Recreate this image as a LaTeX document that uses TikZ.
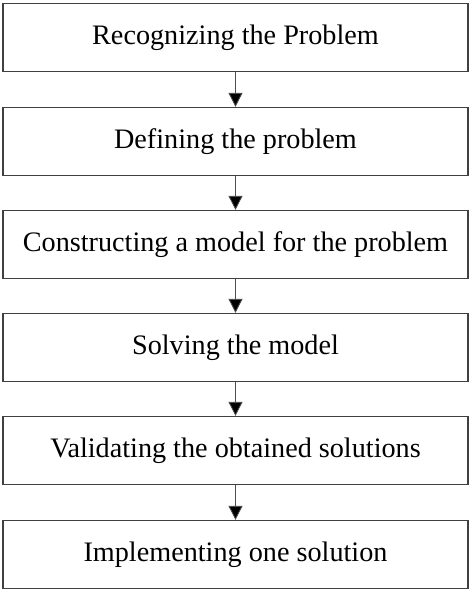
\documentclass[tikz,border=0pt]{standalone}
\usepackage{fontspec}
\setmainfont{Liberation Serif}
\usetikzlibrary{arrows.meta}
\begin{document}
\begin{tikzpicture}[x=1pt,y=1pt,
  stepbox/.style={draw=black!75,line width=1.3pt,minimum width=465pt,minimum height=68pt,inner sep=0pt,font=\fontsize{28.2}{32}\selectfont},
  conn/.style={draw=black!70,line width=0.8pt,-{Triangle[width=14pt,length=14pt,fill=black]}}]
\useasboundingbox (0,0) rectangle (474,-594);
\node[stepbox] (b1) at (235.5,-37.5) {Recognizing the Problem};
\node[stepbox] (b2) at (235.5,-141.5) {Defining the problem};
\node[stepbox] (b3) at (235.5,-244.5) {Constructing a model for the problem};
\node[stepbox] (b4) at (235.5,-347.5) {Solving the model};
\node[stepbox] (b5) at (235.5,-450.5) {Validating the obtained solutions};
\node[stepbox] (b6) at (235.5,-554.5) {Implementing one solution};
\draw[conn] (b1) -- (b2);
\draw[conn] (b2) -- (b3);
\draw[conn] (b3) -- (b4);
\draw[conn] (b4) -- (b5);
\draw[conn] (b5) -- (b6);
\end{tikzpicture}
\end{document}
